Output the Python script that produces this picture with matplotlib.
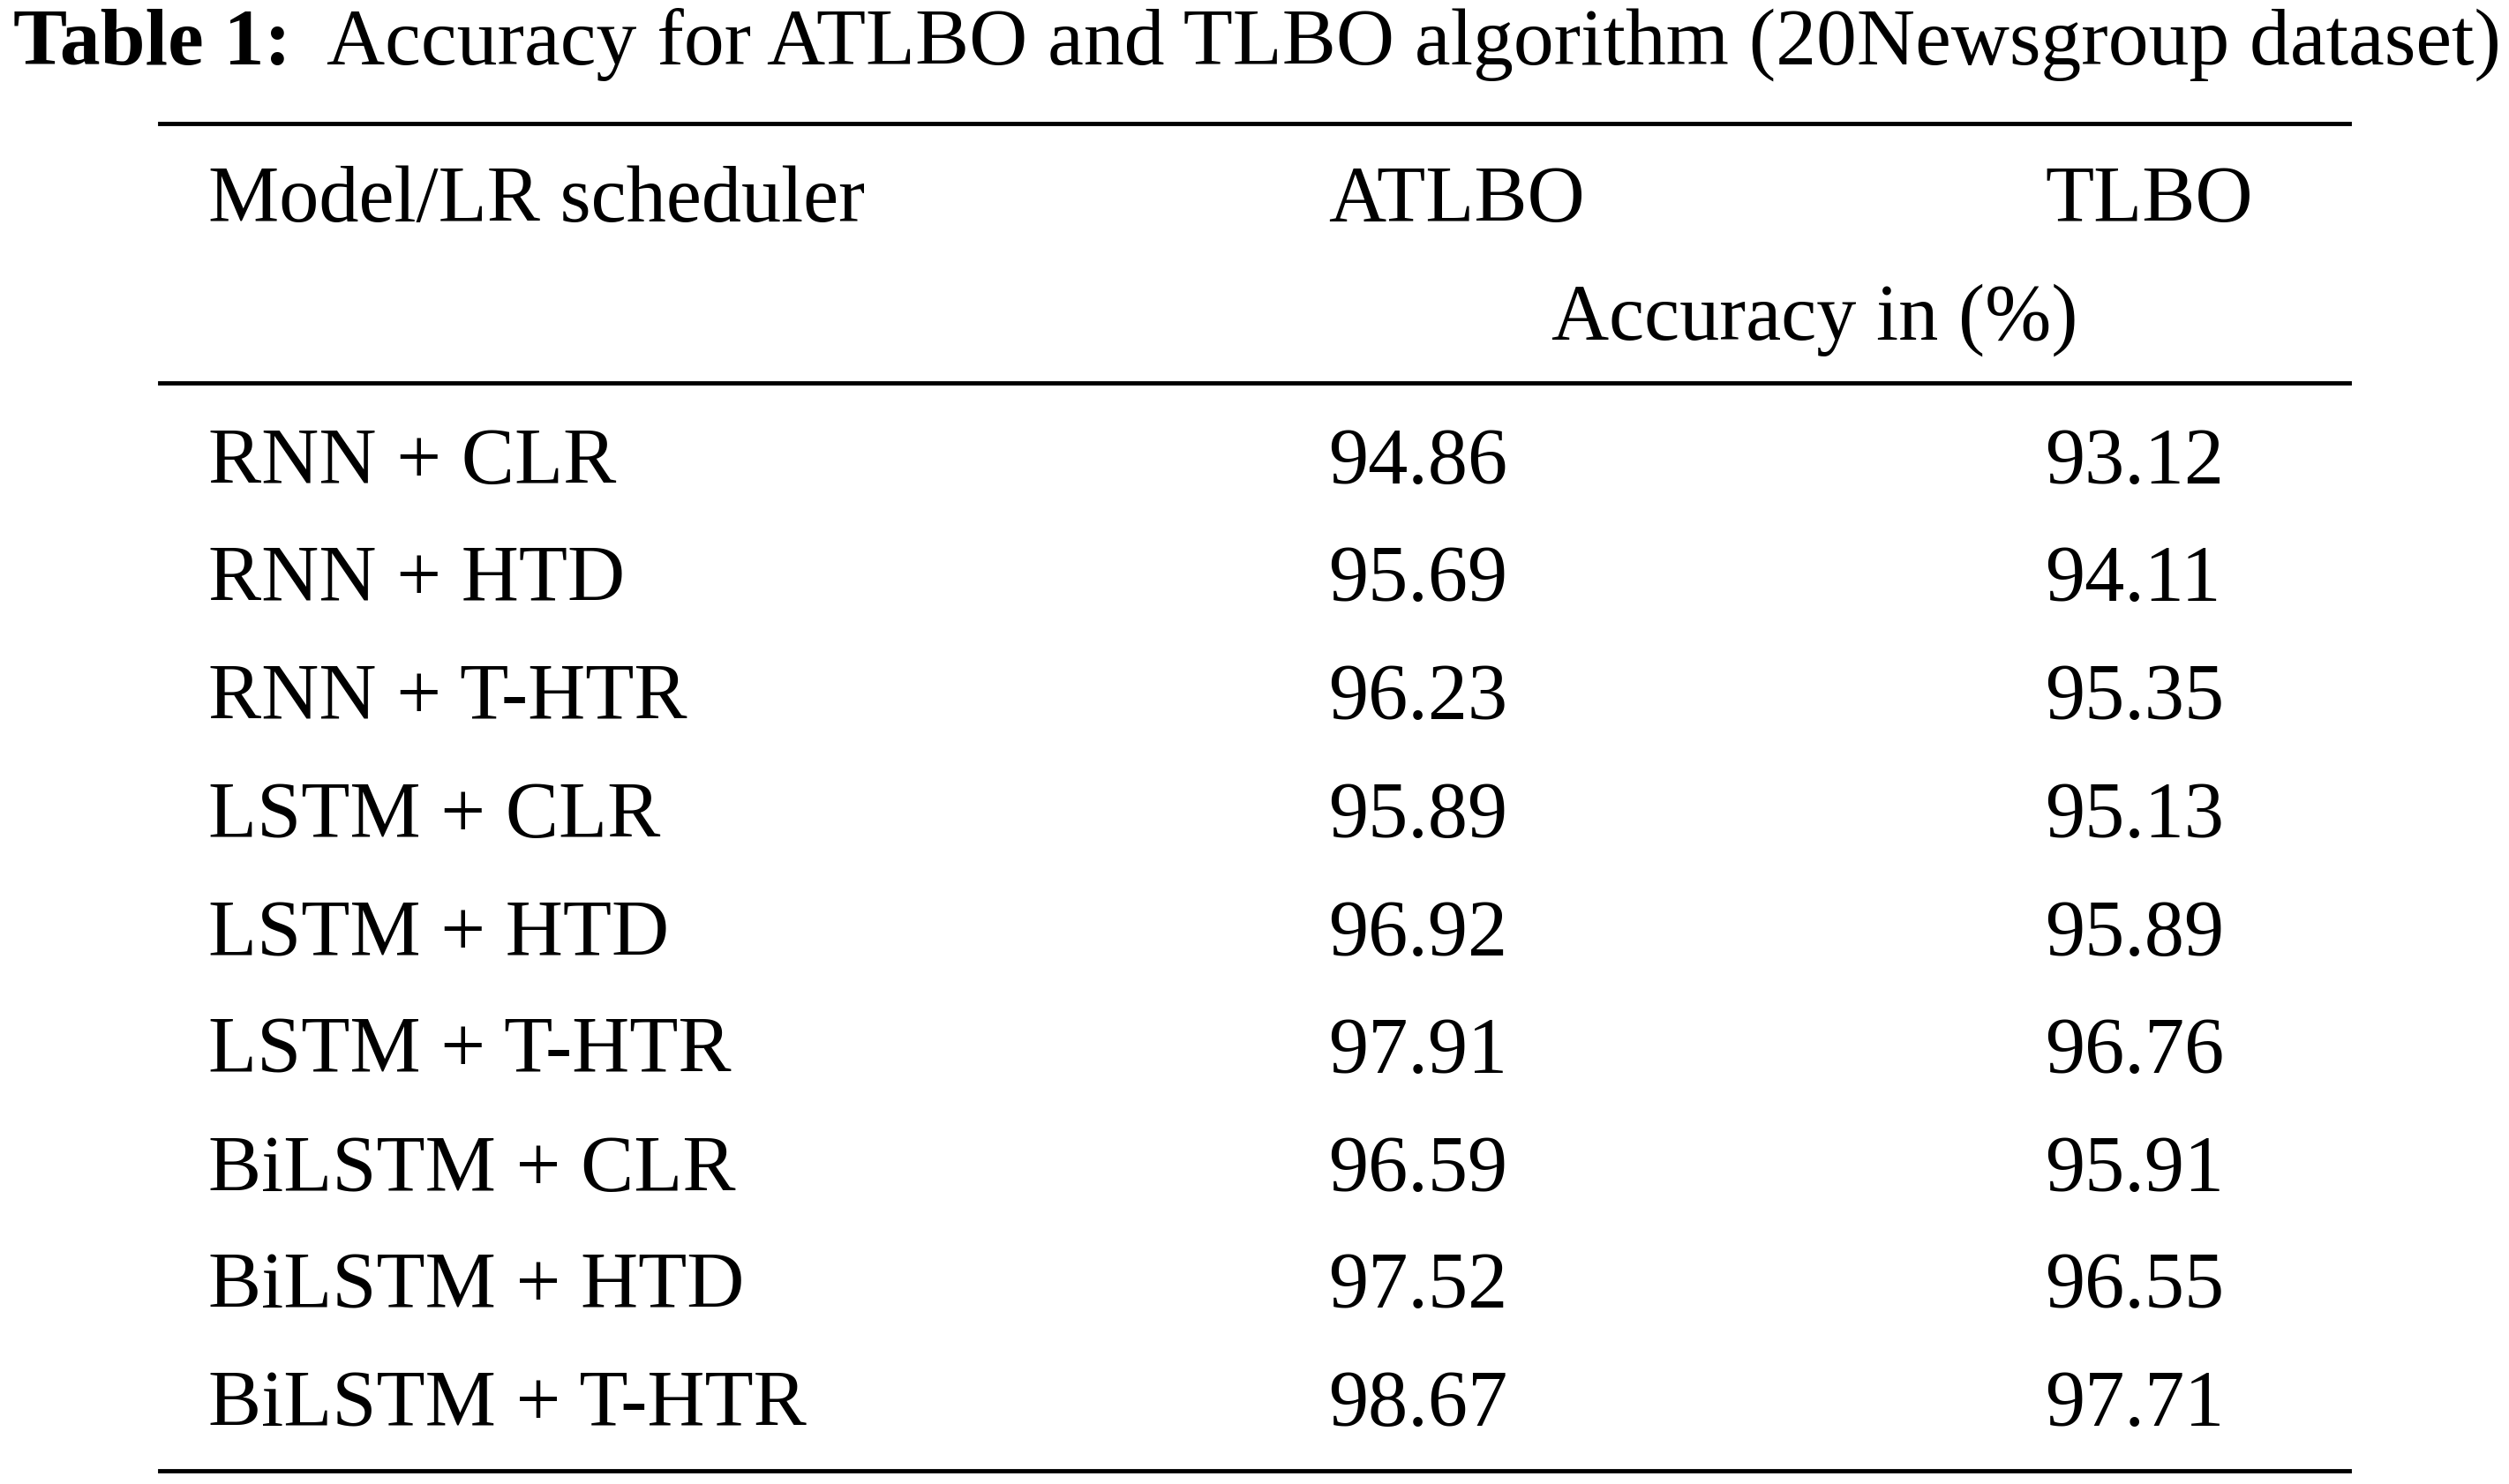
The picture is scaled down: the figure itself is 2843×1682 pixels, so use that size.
import matplotlib
matplotlib.use("Agg")
import matplotlib.pyplot as plt

models = ["RNN + CLR", "RNN + HTD", "RNN + T-HTR", "LSTM + CLR", "LSTM + HTD",
          "LSTM + T-HTR", "BiLSTM + CLR", "BiLSTM + HTD", "BiLSTM + T-HTR"]
atlbo = ["94.86", "95.69", "96.23", "95.89", "96.92", "97.91", "96.59", "97.52", "98.67"]
tlbo = ["93.12", "94.11", "95.35", "95.13", "95.89", "96.76", "95.91", "96.55", "97.71"]
headers = ["Model/LR scheduler", "ATLBO", "TLBO"]

W, H = 1568, 928
fig = plt.figure(figsize=(28.43, 16.83), dpi=100)
fig.patch.set_facecolor("white")
fam = "Liberation Serif"
fs = 65

def X(x): return x / W
def Y(y): return 1 - y / H

fig.text(X(8), Y(28), "Table 1:", fontsize=66, fontweight="bold", family=fam, va="center", ha="left")
fig.text(X(204), Y(28), "Accuracy for ATLBO and TLBO algorithm (20Newsgroup dataset)",
         fontsize=66, family=fam, va="center", ha="left")

for y in (78, 240, 920):
    fig.add_artist(plt.Line2D([X(100), X(1468)], [Y(y), Y(y)], color="black", lw=3.5))

colx = [130, 830, 1278]
for x, h in zip(colx, headers):
    fig.text(X(x), Y(126), h, fontsize=fs, family=fam, va="center", ha="left")
fig.text(X(1134), Y(200), "Accuracy in (%)", fontsize=fs, family=fam, va="center", ha="center")

rows_y = [290, 363, 437, 511, 585, 658, 732, 805, 879]
for y, m, a, t in zip(rows_y, models, atlbo, tlbo):
    for x, s in zip(colx, (m, a, t)):
        fig.text(X(x), Y(y), s, fontsize=fs, family=fam, va="center", ha="left")

fig.savefig("out.png", dpi=100, facecolor="white")
